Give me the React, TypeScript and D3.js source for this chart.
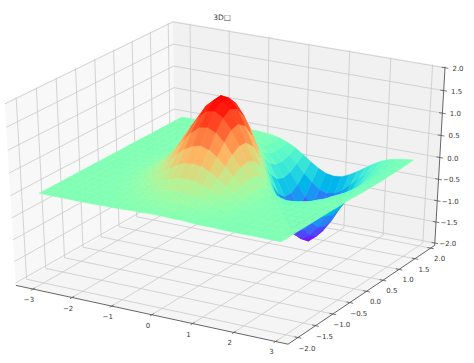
import React from "react";
import * as d3 from "d3";

const chartTitle = "3D\u25A1";
const xTicks = [-3, -2, -1, 0, 1, 2, 3];
const yTicks = [-2, -1.5, -1, -0.5, 0, 0.5, 1, 1.5, 2];
const zTicks = [-2, -1.5, -1, -0.5, 0, 0.5, 1, 1.5, 2];

const xValues = [-3, -2.8, -2.6, -2.4, -2.2, -2, -1.8, -1.6, -1.4, -1.2, -1, -0.8, -0.6, -0.4, -0.2, 0, 0.2, 0.4, 0.6, 0.8, 1, 1.2, 1.4, 1.6, 1.8, 2, 2.2, 2.4, 2.6, 2.8, 3];
const yValues = [-2, -1.8, -1.6, -1.4, -1.2, -1, -0.8, -0.6, -0.4, -0.2, 0, 0.2, 0.4, 0.6, 0.8, 1, 1.2, 1.4, 1.6, 1.8, 2];

// One row per y value, one entry per x value: heights.
const zRows = [
  [0,0,0,0,0,0,0,0,.01,.01,.01,.02,.03,.03,.04,.04,.04,.03,.03,.02,.01,.01,.01,0,0,0,0,0,0,0,0],
  [0,0,0,0,0,0,0,.01,.01,.02,.03,.04,.05,.07,.07,.08,.07,.07,.05,.04,.03,.02,.01,.01,0,0,0,0,0,0,0],
  [0,0,0,0,0,0,.01,.01,.02,.04,.06,.08,.11,.13,.15,.15,.15,.13,.11,.08,.05,.03,.02,.01,0,0,0,0,0,0,0],
  [0,0,0,0,0,.01,.01,.02,.04,.07,.10,.15,.20,.24,.27,.28,.27,.24,.19,.14,.10,.06,.03,.02,.01,0,0,0,0,0,0],
  [0,0,0,0,0,.01,.02,.04,.07,.11,.17,.25,.33,.40,.45,.47,.45,.39,.32,.23,.16,.10,.05,.03,.01,0,0,0,0,0,0],
  [0,0,0,0,.01,.01,.03,.06,.10,.17,.27,.39,.51,.62,.70,.72,.69,.60,.48,.35,.23,.14,.07,.03,.01,0,0,-.01,0,0,0],
  [0,0,0,0,.01,.02,.04,.08,.15,.25,.39,.55,.73,.89,.99,1.03,.97,.84,.67,.48,.31,.17,.08,.03,0,-.01,-.01,-.01,-.01,0,0],
  [0,0,0,0,.01,.03,.05,.11,.20,.33,.51,.73,.96,1.17,1.31,1.34,1.26,1.08,.84,.59,.36,.18,.07,0,-.03,-.03,-.03,-.02,-.01,-.01,0],
  [0,0,0,.01,.01,.03,.07,.13,.24,.40,.62,.89,1.17,1.41,1.57,1.60,1.49,1.26,.95,.63,.35,.13,0,-.07,-.08,-.07,-.05,-.03,-.02,-.01,-.01],
  [0,0,0,.01,.02,.03,.07,.15,.27,.45,.70,.99,1.30,1.57,1.73,1.75,1.60,1.31,.94,.56,.23,0,-.13,-.18,-.17,-.14,-.10,-.06,-.03,-.02,-.01],
  [0,0,0,.01,.02,.04,.08,.15,.28,.47,.72,1.03,1.34,1.60,1.75,1.73,1.53,1.19,.77,.35,0,-.23,-.35,-.36,-.31,-.24,-.16,-.10,-.06,-.03,-.01],
  [0,0,0,.01,.02,.03,.07,.15,.27,.45,.69,.97,1.26,1.49,1.60,1.53,1.29,.90,.44,0,-.35,-.56,-.63,-.59,-.48,-.35,-.24,-.14,-.08,-.04,-.02],
  [0,0,0,.01,.01,.03,.07,.13,.24,.39,.60,.84,1.08,1.26,1.31,1.19,.90,.48,0,-.44,-.77,-.94,-.95,-.84,-.67,-.48,-.32,-.19,-.11,-.05,-.03],
  [0,0,0,0,.01,.03,.05,.11,.19,.32,.48,.67,.84,.95,.94,.77,.44,0,-.48,-.90,-1.19,-1.31,-1.26,-1.08,-.84,-.60,-.39,-.24,-.13,-.07,-.03],
  [0,0,0,0,.01,.02,.04,.08,.14,.23,.35,.48,.59,.63,.56,.35,0,-.44,-.90,-1.29,-1.53,-1.60,-1.49,-1.26,-.97,-.69,-.45,-.27,-.15,-.07,-.03],
  [0,0,0,0,.01,.01,.03,.06,.10,.16,.24,.31,.36,.35,.23,0,-.35,-.77,-1.19,-1.53,-1.73,-1.75,-1.60,-1.34,-1.03,-.72,-.47,-.28,-.15,-.08,-.04],
  [0,0,0,0,0,.01,.02,.03,.06,.10,.14,.17,.18,.13,0,-.23,-.56,-.94,-1.31,-1.60,-1.75,-1.73,-1.57,-1.31,-.99,-.70,-.45,-.27,-.15,-.07,-.03],
  [0,0,0,0,0,.01,.01,.02,.03,.05,.07,.08,.07,0,-.13,-.35,-.63,-.95,-1.26,-1.49,-1.60,-1.57,-1.41,-1.17,-.89,-.62,-.40,-.24,-.13,-.07,-.03],
  [0,0,0,0,0,0,.01,.01,.02,.03,.03,.03,0,-.07,-.18,-.36,-.59,-.84,-1.08,-1.26,-1.34,-1.31,-1.17,-.96,-.73,-.51,-.33,-.20,-.11,-.05,-.03],
  [0,0,0,0,0,0,0,.01,.01,.01,.01,0,-.03,-.08,-.17,-.31,-.48,-.67,-.84,-.97,-1.03,-.99,-.89,-.73,-.55,-.39,-.25,-.15,-.08,-.04,-.02],
  [0,0,0,0,0,0,0,0,.01,0,0,-.01,-.03,-.07,-.14,-.23,-.35,-.48,-.60,-.69,-.72,-.70,-.62,-.51,-.39,-.27,-.17,-.10,-.06,-.03,-.01],
];

const W = 474;
const H = 363;

// Box coordinates run from -0.5 to 0.5 on every side.
const surfX = d3.scaleLinear().domain([-3, 3]).range([-0.4345, 0.436]);
const surfY = d3.scaleLinear().domain([-2, 2]).range([-0.437, 0.44]);
const boxZ = d3.scaleLinear().domain([-2, 2]).range([-0.486, 0.494]);
const tickX = d3.scaleLinear().domain([-3, 3]).range([-0.4345, 0.456]);
const tickY = d3.scaleLinear().domain([-2, 2]).range([-0.437, 0.47]);
const pxX = d3.scaleLinear().domain([0, 1]).range([228.5, 228.5 + 3142]);
const pxY = d3.scaleLinear().domain([0, 1]).range([177, 177 - 2085]);

const DIST = 10;
type P = [number, number];

function depth(a: number, b: number, c: number) {
  return DIST - (0.433 * a - 0.75 * b + 0.5 * c);
}
function project(a: number, b: number, c: number): P {
  const xv = 0.866 * a + 0.5 * b;
  const yv = -0.25 * a + 0.433 * b + 0.866 * c;
  const d = depth(a, b, c);
  return [pxX(xv / d), pxY(yv / d)];
}

const rainbow = (t: number) => {
  const r = Math.abs(2 * t - 0.5);
  const g = Math.sin(Math.PI * t);
  const b = Math.cos((Math.PI * t) / 2);
  const c = (v: number) => Math.round(255 * Math.min(1, Math.max(0, v)));
  return `rgb(${c(r)},${c(g)},${c(b)})`;
};
const colour = d3.scaleSequential(rainbow).domain([-1.72, 1.72]).clamp(true);

const open = d3.line<P>();
const closed = d3.line<P>().curve(d3.curveLinearClosed);

const facets = (() => {
  const out: { d: string; fill: string; depth: number }[] = [];
  for (let j = 0; j < yValues.length - 1; j++) {
    for (let i = 0; i < xValues.length - 1; i++) {
      const corners: [number, number, number][] = [
        [surfX(xValues[i]), surfY(yValues[j]), boxZ(zRows[j][i])],
        [surfX(xValues[i + 1]), surfY(yValues[j]), boxZ(zRows[j][i + 1])],
        [surfX(xValues[i + 1]), surfY(yValues[j + 1]), boxZ(zRows[j + 1][i + 1])],
        [surfX(xValues[i]), surfY(yValues[j + 1]), boxZ(zRows[j + 1][i])],
      ];
      const mean = (zRows[j][i] + zRows[j][i + 1] + zRows[j + 1][i + 1] + zRows[j + 1][i]) / 4;
      out.push({
        d: closed(corners.map((q) => project(q[0], q[1], q[2])))!,
        fill: colour(mean),
        depth: d3.mean(corners, (q) => depth(q[0], q[1], q[2]))!,
      });
    }
  }
  return out.sort((p, q) => q.depth - p.depth);
})();

const L = -0.5;
const R = 0.5;
const GRID = "#c9c9c9";
const AXIS = "#555";
const TEXT = "#3a3a3a";
const fmt = d3.format(".1f");
const minus = (s: string) => s.replace("-", "\u2212");

export default function App() {
  const pane = (pts: [number, number, number][], fill: string) => (
    <path d={closed(pts.map((p) => project(p[0], p[1], p[2])))!} fill={fill} stroke="none" />
  );
  const line = (pts: [number, number, number][], stroke: string, w: number, key?: string) => (
    <path key={key} d={open(pts.map((p) => project(p[0], p[1], p[2])))!} fill="none" stroke={stroke} strokeWidth={w} />
  );
  return (
    <svg width={W} height={H} style={{ position: "absolute", left: 0, top: 0, background: "#fff", display: "block" }}>
      {pane([[L, L, L], [L, R, L], [L, R, R], [L, L, R]], "#f8f8f8")}
      {pane([[L, R, L], [R, R, L], [R, R, R], [L, R, R]], "#f1f1f1")}
      {pane([[L, L, L], [R, L, L], [R, R, L], [L, R, L]], "#f5f5f5")}
      {xTicks.map((v) =>
        line([[tickX(v), L, L], [tickX(v), R, L], [tickX(v), R, R]], GRID, 0.8, `gx${v}`)
      )}
      {yTicks.map((v) =>
        line([[R, tickY(v), L], [L, tickY(v), L], [L, tickY(v), R]], GRID, 0.8, `gy${v}`)
      )}
      {zTicks.map((v) =>
        line([[L, L, boxZ(v)], [L, R, boxZ(v)], [R, R, boxZ(v)]], GRID, 0.8, `gz${v}`)
      )}
      {line([[L, L, L], [R, L, L]], AXIS, 0.9)}
      {line([[R, L, L], [R, R, L]], AXIS, 0.9)}
      {line([[R, R, L], [R, R, R]], AXIS, 0.9)}
      {xTicks.map((v) => line([[tickX(v), L + 0.012, L], [tickX(v), L - 0.012, L]], AXIS, 0.8, `tx${v}`))}
      {yTicks.map((v) => line([[R - 0.012, tickY(v), L], [R + 0.012, tickY(v), L]], AXIS, 0.8, `ty${v}`))}
      {zTicks.map((v) => line([[R - 0.012, R, boxZ(v)], [R + 0.012, R, boxZ(v)]], AXIS, 0.8, `tz${v}`))}
      <g fontFamily="'DejaVu Sans', sans-serif" fontSize={7} fill={TEXT} textAnchor="middle" dominantBaseline="central">
        {xTicks.map((v) => {
          const [px, py] = project(tickX(v), L, L);
          return <text key={`lx${v}`} x={px - 4} y={py + 11}>{minus(String(v))}</text>;
        })}
        {yTicks.map((v) => {
          const [px, py] = project(R, tickY(v), L);
          return <text key={`ly${v}`} x={px + 9} y={py + 11}>{minus(fmt(v))}</text>;
        })}
        {zTicks.map((v) => {
          const [px, py] = project(R, R, boxZ(v));
          return <text key={`lz${v}`} x={px + 13} y={py + 1}>{minus(fmt(v))}</text>;
        })}
      </g>
      <g>
        {facets.map((f, i) => (
          <path key={i} d={f.d} fill={f.fill} stroke={f.fill} strokeWidth={0.4} />
        ))}
      </g>
      <text x={222} y={17} fontFamily="'DejaVu Sans', sans-serif" fontSize={7.5} fill={TEXT} textAnchor="middle" dominantBaseline="central">
        {chartTitle}
      </text>
    </svg>
  );
}
